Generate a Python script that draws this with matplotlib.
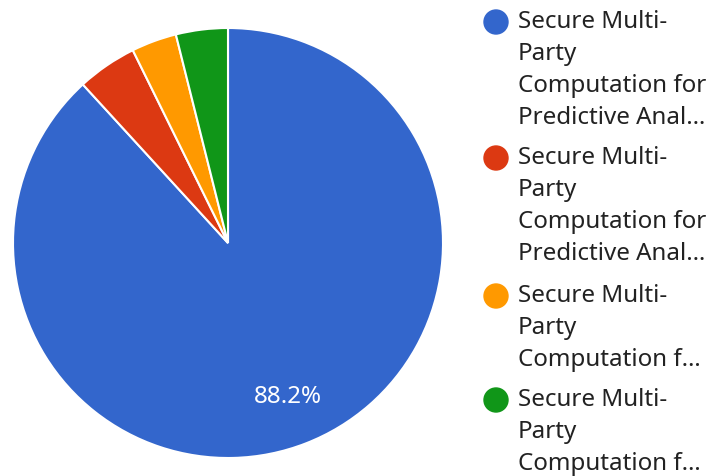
import matplotlib
matplotlib.use("Agg")
import matplotlib.pyplot as plt
from matplotlib.patches import Circle

labels = [
    "Secure Multi-Party Computation for Predictive Anal…",
    "Secure Multi-Party Computation for Predictive Anal…",
    "Secure Multi-Party Computation f…",
    "Secure Multi-Party Computation f…",
]
legend_lines = [
    ["Secure Multi-", "Party", "Computation for", "Predictive Anal…"],
    ["Secure Multi-", "Party", "Computation for", "Predictive Anal…"],
    ["Secure Multi-", "Party", "Computation f…"],
    ["Secure Multi-", "Party", "Computation f…"],
]
values = [88.2, 4.5, 3.4, 3.9]
colors = ["#3366cc", "#dc3912", "#ff9900", "#109618"]

plt.rcParams['font.family'] = ['Noto Sans', 'DejaVu Sans']

W, H = 712, 476
fig = plt.figure(figsize=(W / 100, H / 100), dpi=100)

cx, cy, r = 228, 243, 215
ax = fig.add_axes([(cx - r) / W, (H - cy - r) / H, 2 * r / W, 2 * r / H])
ax.pie(values, colors=colors, startangle=90, counterclock=False,
       wedgeprops=dict(edgecolor="white", linewidth=1.5),
       autopct=lambda p: f"{p:.1f}%" if p > 10 else "",
       pctdistance=0.77,
       textprops=dict(color="white", fontsize=17.4))
ax.set_xlim(-1, 1)
ax.set_ylim(-1, 1)
ax.set_aspect("equal")
ax.axis("off")

# legend drawn manually
lax = fig.add_axes([0, 0, 1, 1])
lax.set_xlim(0, W)
lax.set_ylim(H, 0)
lax.axis("off")
starts = [22, 158, 296, 400]
for lines, col, y0 in zip(legend_lines, colors, starts):
    lax.add_patch(Circle((496, y0), 12, color=col))
    for i, t in enumerate(lines):
        lax.text(518, y0 + 32 * i, t, fontsize=17.4, color="#222222",
                 va="center", ha="left")

fig.savefig("out.png", dpi=100)
